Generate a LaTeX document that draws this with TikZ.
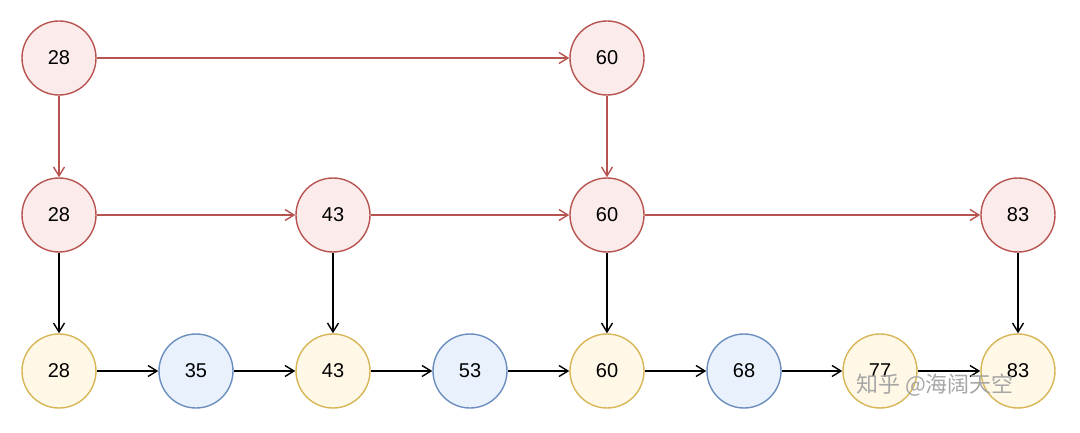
\documentclass[tikz,border=0pt]{standalone}
\usepackage{fontspec}
\setmainfont{Liberation Sans}
\newfontfamily\cjk{Noto Sans CJK SC}
\usetikzlibrary{arrows.meta,patterns}
\definecolor{rs}{HTML}{B85450}\definecolor{rf}{HTML}{F8CECC}
\definecolor{ys}{HTML}{D6B656}\definecolor{yf}{HTML}{FFF2CC}
\definecolor{bs}{HTML}{6C8EBF}\definecolor{bf}{HTML}{DAE8FC}
\tikzset{
 nd/.style={circle,minimum size=74pt,inner sep=0pt,line width=1.4pt,font=\fontsize{20}{24}\selectfont},
 rn/.style={nd,draw=rs,fill=rf!40,pattern color=rf},
 yn/.style={nd,draw=ys,fill=yf!50},
 bn/.style={nd,draw=bs,fill=bf!60},
 ra/.style={draw=rs,line width=1.4pt,-{Straight Barb[length=9pt,width=11pt]}},
 ka/.style={draw=black,line width=1.4pt,-{Straight Barb[length=9pt,width=11pt]}},
}
\begin{document}
\begin{tikzpicture}[x=1pt,y=-1pt]
\useasboundingbox (0,0) rectangle (1080,433);
\node[rn] (a1) at (59,58) {28};
\node[rn] (a2) at (607,58) {60};
\node[rn] (b1) at (59,215) {28};
\node[rn] (b2) at (333,215) {43};
\node[rn] (b3) at (607,215) {60};
\node[rn] (b4) at (1018,215) {83};
\node[yn] (c1) at (59,371) {28};
\node[bn] (c2) at (196,371) {35};
\node[yn] (c3) at (333,371) {43};
\node[bn] (c4) at (470,371) {53};
\node[yn] (c5) at (607,371) {60};
\node[bn] (c6) at (744,371) {68};
\node[yn] (c7) at (880,371) {77};
\node[yn] (c8) at (1018,371) {83};
\draw[ra] (a1)--(a2); \draw[ra] (a1)--(b1); \draw[ra] (a2)--(b3);
\draw[ra] (b1)--(b2); \draw[ra] (b2)--(b3); \draw[ra] (b3)--(b4);
\draw[ka] (b1)--(c1); \draw[ka] (b2)--(c3); \draw[ka] (b3)--(c5); \draw[ka] (b4)--(c8);
\foreach \p/\q in {c1/c2,c2/c3,c3/c4,c4/c5,c5/c6,c6/c7,c7/c8} \draw[ka] (\p)--(\q);
\node[text=gray!70,font=\cjk\fontsize{22}{26}\selectfont] (wm) at (935,385) {知乎 @海阔天空};
\end{tikzpicture}
\end{document}
